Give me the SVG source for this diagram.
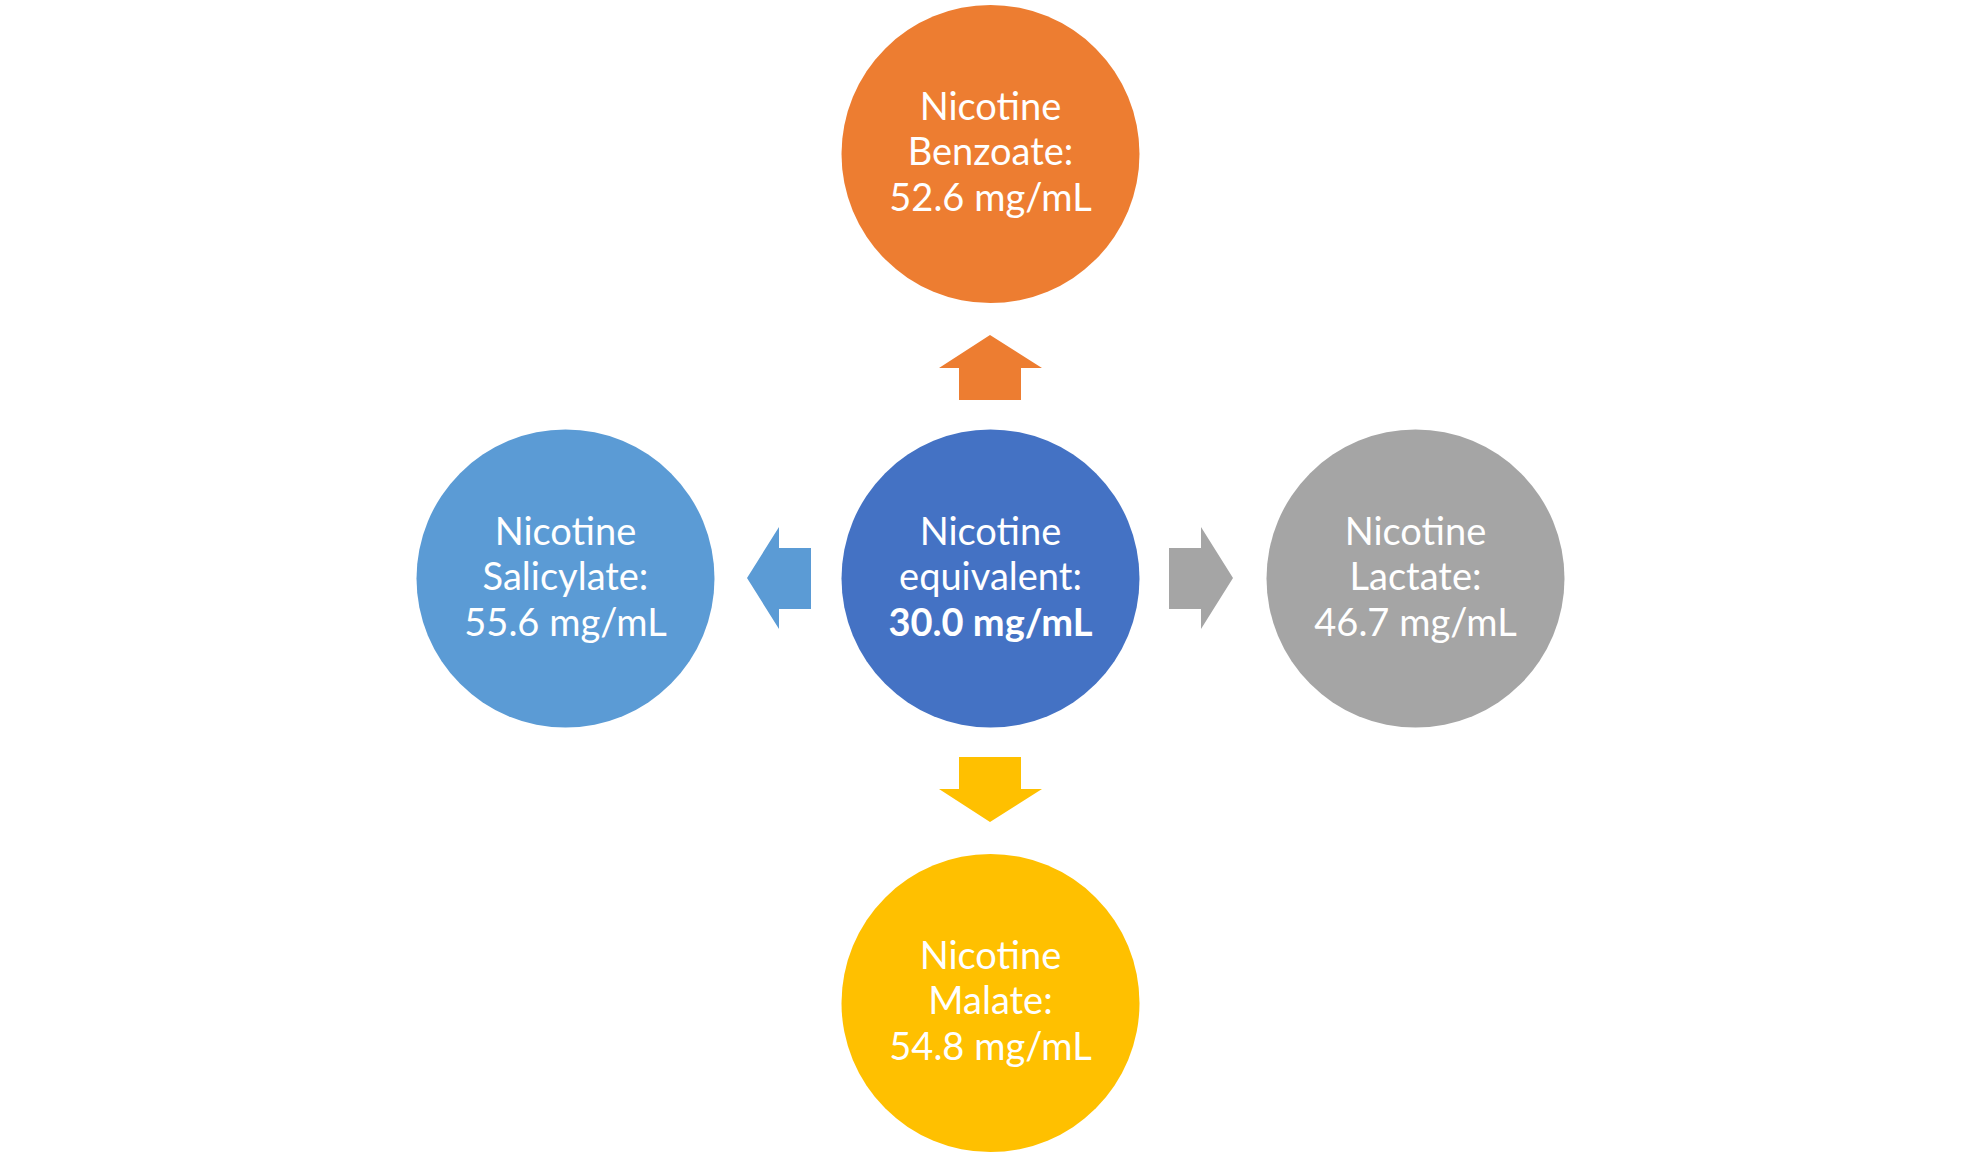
<svg xmlns="http://www.w3.org/2000/svg" width="1980" height="1158" viewBox="0 0 1980 1158">
<style>
.lbl{font-family:Lato,"Open Sans","Liberation Sans",sans-serif;font-size:38px;fill:#ffffff;text-anchor:middle}
.b{font-weight:bold}
</style>
<rect width="1980" height="1158" fill="#ffffff"/>
<g id="connectors">
<polygon id="arrow-up" fill="#ED7D31" points="990,335 1042,368 1021,368 1021,400 959,400 959,368 939,368"/>
<polygon id="arrow-down" fill="#FFC000" points="990,822 1042,789 1021,789 1021,757 959,757 959,789 939,789"/>
<polygon id="arrow-left" fill="#5B9BD5" points="747,578 779,527 779,548 811,548 811,609 779,609 779,629"/>
<polygon id="arrow-right" fill="#A5A5A5" points="1233,578 1201,527 1201,548 1169,548 1169,609 1201,609 1201,629"/>
</g>
<g id="node-center">
<circle cx="990.5" cy="578.5" r="149" fill="#4472C4"/>
<text class="lbl" x="990.5" y="545">Nicotine</text>
<text class="lbl" x="990.5" y="590">equivalent:</text>
<text class="lbl b" x="990.5" y="636">30.0 mg/mL</text>
</g>
<g id="node-benzoate">
<circle cx="990.5" cy="154" r="149" fill="#ED7D31"/>
<text class="lbl" x="990.5" y="120">Nicotine</text>
<text class="lbl" x="990.5" y="165">Benzoate:</text>
<text class="lbl" x="990.5" y="211">52.6 mg/mL</text>
</g>
<g id="node-salicylate">
<circle cx="565.5" cy="578.5" r="149" fill="#5B9BD5"/>
<text class="lbl" x="565.5" y="545">Nicotine</text>
<text class="lbl" x="565.5" y="590">Salicylate:</text>
<text class="lbl" x="565.5" y="636">55.6 mg/mL</text>
</g>
<g id="node-lactate">
<circle cx="1415.5" cy="578.5" r="149" fill="#A5A5A5"/>
<text class="lbl" x="1415.5" y="545">Nicotine</text>
<text class="lbl" x="1415.5" y="590">Lactate:</text>
<text class="lbl" x="1415.5" y="636">46.7 mg/mL</text>
</g>
<g id="node-malate">
<circle cx="990.5" cy="1003" r="149" fill="#FFC000"/>
<text class="lbl" x="990.5" y="969">Nicotine</text>
<text class="lbl" x="990.5" y="1014">Malate:</text>
<text class="lbl" x="990.5" y="1060">54.8 mg/mL</text>
</g>
</svg>
